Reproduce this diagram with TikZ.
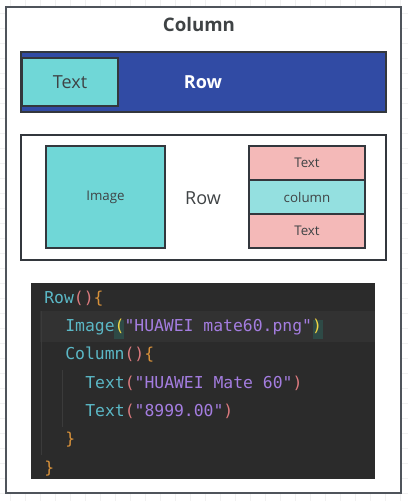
\documentclass[tikz,border=0pt]{standalone}
\usepackage{fontspec}
\setmainfont{Open Sans}
\setmonofont{DejaVu Sans Mono}
\usepackage{tikz}
\usetikzlibrary{positioning}
\definecolor{framegray}{HTML}{4F545B}
\definecolor{edgegray}{HTML}{33373D}
\definecolor{textgray}{HTML}{3F4345}
\definecolor{gridgray}{HTML}{F1F1F1}
\definecolor{rowblue}{HTML}{314BA4}
\definecolor{tealbox}{HTML}{70D7D7}
\definecolor{paleteal}{HTML}{94E0E0}
\definecolor{pinkbox}{HTML}{F4B9B8}
\definecolor{codebg}{HTML}{2B2B2B}
\definecolor{curline}{HTML}{323232}
\definecolor{guide}{HTML}{3B3B3B}
\definecolor{matchbg}{HTML}{2E4A46}
\definecolor{cteal}{HTML}{5BB8C6}
\definecolor{csalmon}{HTML}{DC7A7E}
\definecolor{corange}{HTML}{D8913A}
\definecolor{cyellow}{HTML}{EED544}
\definecolor{cpurple}{HTML}{A47DE0}
\tikzset{
  gridline/.style={draw=gridgray, line width=0.6pt},
  frame/.style={draw=framegray, line width=1.5pt, fill=white},
  cell/.style={draw=edgegray, line width=0.9pt, align=center, inner sep=0pt, text=textgray, font=\fontsize{10}{12}\selectfont},
  label/.style={inner sep=0pt, text=textgray, font=\fontsize{13.5}{16}\selectfont},
  codeline/.style={anchor=base west, inner sep=0pt, font=\ttfamily\fontsize{12.3}{14}\selectfont}
}
\begin{document}
\begin{tikzpicture}[x=0.75pt, y=-0.75pt]
  \useasboundingbox (0,0) rectangle (408,501);
  % background grid
  \foreach \gx in {10,25,...,405} \draw[gridline] (\gx,0) -- (\gx,501);
  \foreach \gy in {13,28,...,500} \draw[gridline] (0,\gy) -- (408,\gy);

  % outer column
  \draw[frame] (6,7) rectangle (401,493);
  \node[label, font=\fontsize{14}{16}\selectfont\bfseries] (coltitle) at (199,24) {Column};

  % first row
  \node[cell, fill=rowblue, minimum width=273.75pt, minimum height=45pt] (row1) at (203.5,82) {};
  \node[cell, fill=tealbox, minimum width=72pt, minimum height=36pt, font=\fontsize{13.5}{16}\selectfont] (txt1) at (70,82) {Text};
  \node[label, text=white, font=\fontsize{13.5}{16}\selectfont\bfseries] (row1lbl) at (203,82) {Row};

  % second row
  \node[cell, fill=white, minimum width=273.75pt, minimum height=93.75pt] (row2) at (203.5,197.5) {};
  \node[cell, fill=tealbox, minimum width=89.25pt, minimum height=76.5pt] (img) at (105.5,197) {Image};
  \node[label] (row2lbl) at (203,198) {Row};
  \node[cell, fill=pinkbox, minimum width=87pt, minimum height=25.5pt] (txtA) at (307,163) {Text};
  \node[cell, fill=paleteal, minimum width=87pt, minimum height=25.5pt] (colmid) at (307,197) {column};
  \node[cell, fill=pinkbox, minimum width=87pt, minimum height=25.5pt] (txtB) at (307,231) {Text};

  % code panel
  \fill[codebg] (31,283) rectangle (375,479);
  \fill[curline] (40,311) rectangle (375,342);
  \draw[guide, line width=0.75pt] (41,311) -- (41,455);
  \draw[guide, line width=0.75pt] (62,370) -- (62,427);
  \fill[matchbg] (114,320) rectangle (124,339);
  \fill[matchbg] (313,320) rectangle (323,339);

  \node[codeline] (c1) at (44,303) {\textcolor{cteal}{Row}\textcolor{csalmon}{()}\textcolor{corange}{\{}};
  \node[codeline] (c2) at (65,331.3) {\textcolor{cteal}{Image}\textcolor{cyellow}{(}\textcolor{cpurple}{"HUAWEI mate60.png"}\textcolor{cyellow}{)}};
  \node[codeline] (c3) at (65,359.7) {\textcolor{cteal}{Column}\textcolor{csalmon}{()}\textcolor{corange}{\{}};
  \node[codeline] (c4) at (85,388) {\textcolor{cteal}{Text}\textcolor{csalmon}{(}\textcolor{cpurple}{"HUAWEI Mate 60"}\textcolor{csalmon}{)}};
  \node[codeline] (c5) at (85,416.3) {\textcolor{cteal}{Text}\textcolor{csalmon}{(}\textcolor{cpurple}{"8999.00"}\textcolor{csalmon}{)}};
  \node[codeline] (c6) at (65,444.7) {\textcolor{corange}{\}}};
  \node[codeline] (c7) at (44,473) {\textcolor{corange}{\}}};
\end{tikzpicture}
\end{document}
